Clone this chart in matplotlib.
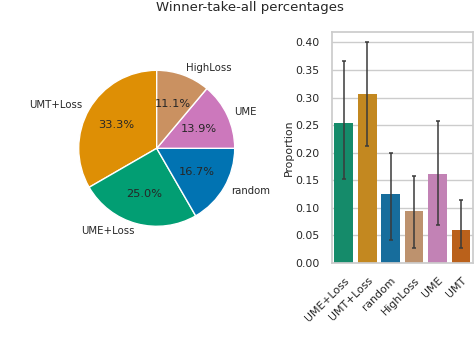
import matplotlib
matplotlib.use("Agg")
import matplotlib.pyplot as plt
import seaborn as sns
import numpy as np

sns.set_theme(style="whitegrid")
plt.rcParams['font.family'] = ['DejaVu Sans']

# Pie: share of wins per method
pie_labels = ["UMT+Loss", "UME+Loss", "random", "UME", "HighLoss"]
pie_counts = [12, 9, 6, 5, 4]

# Bars: mean proportion with confidence interval bounds
bar_labels = ["UME+Loss", "UMT+Loss", "random", "HighLoss", "UME", "UMT"]
bar_means = [0.254, 0.307, 0.125, 0.094, 0.161, 0.059]
ci_low = [0.153, 0.213, 0.041, 0.027, 0.069, 0.027]
ci_high = [0.367, 0.400, 0.200, 0.158, 0.258, 0.114]

pal = sns.color_palette("colorblind")
color_of = {
    "random": pal[0], "UMT+Loss": pal[1], "UME+Loss": pal[2],
    "UMT": pal[3], "UME": pal[4], "HighLoss": pal[5],
}

W, H = 474, 344
fig = plt.figure(figsize=(W / 100, H / 100), dpi=100)

# Pie axes
cx, cy, r = 156.7, 148.3, 78.0
box = 1.25 * r
ax1 = fig.add_axes([(cx - box) / W, 1 - (cy + box) / H, 2 * box / W, 2 * box / H])
wedges, texts, autotexts = ax1.pie(
    pie_counts, labels=pie_labels, colors=[color_of[l] for l in pie_labels],
    autopct="%1.1f%%", startangle=90, counterclock=True,
    wedgeprops=dict(edgecolor="white", linewidth=1.0),
    textprops=dict(fontsize=7.3, color=".15"))
for t in autotexts:
    t.set_fontsize(8.2)
ax1.set_xlim(-1.25, 1.25)
ax1.set_ylim(-1.25, 1.25)
ax1.set_aspect("equal")

# Bar axes
left, right, top, bottom = 332, 472.7, 32, 263
ax2 = fig.add_axes([left / W, 1 - bottom / H, (right - left) / W, (bottom - top) / H])
x = np.arange(len(bar_labels))
bar_cols = [sns.desaturate(color_of[l], 0.75) for l in bar_labels]
ax2.bar(x, bar_means, width=0.8, color=bar_cols, edgecolor="none", zorder=2)
yerr = np.array([np.array(bar_means) - np.array(ci_low),
                 np.array(ci_high) - np.array(bar_means)])
ax2.errorbar(x, bar_means, yerr=yerr, fmt="none", ecolor="#3a3a3a",
             elinewidth=1.1, capsize=1.6, capthick=1.1, zorder=3)
ax2.set_xlim(-0.5, len(bar_labels) - 0.5)
ax2.set_ylim(0, 0.419)
ax2.set_yticks(np.arange(0, 0.41, 0.05))
ax2.set_yticklabels([f"{v:.2f}" for v in np.arange(0, 0.41, 0.05)])
ax2.set_xticks(x)
ax2.set_xticklabels(bar_labels, rotation=45, ha="right", rotation_mode="anchor")
ax2.tick_params(labelsize=7.8, pad=3)
ax2.set_ylabel("Proportion", fontsize=7.8, labelpad=1)
ax2.xaxis.grid(False)
ax2.set_axisbelow(True)

fig.text(250 / W, 1 - 8 / H, "Winner-take-all percentages", ha="center", va="center",
         fontsize=9.5, color=".15")

fig.savefig("out.png", dpi=100)
